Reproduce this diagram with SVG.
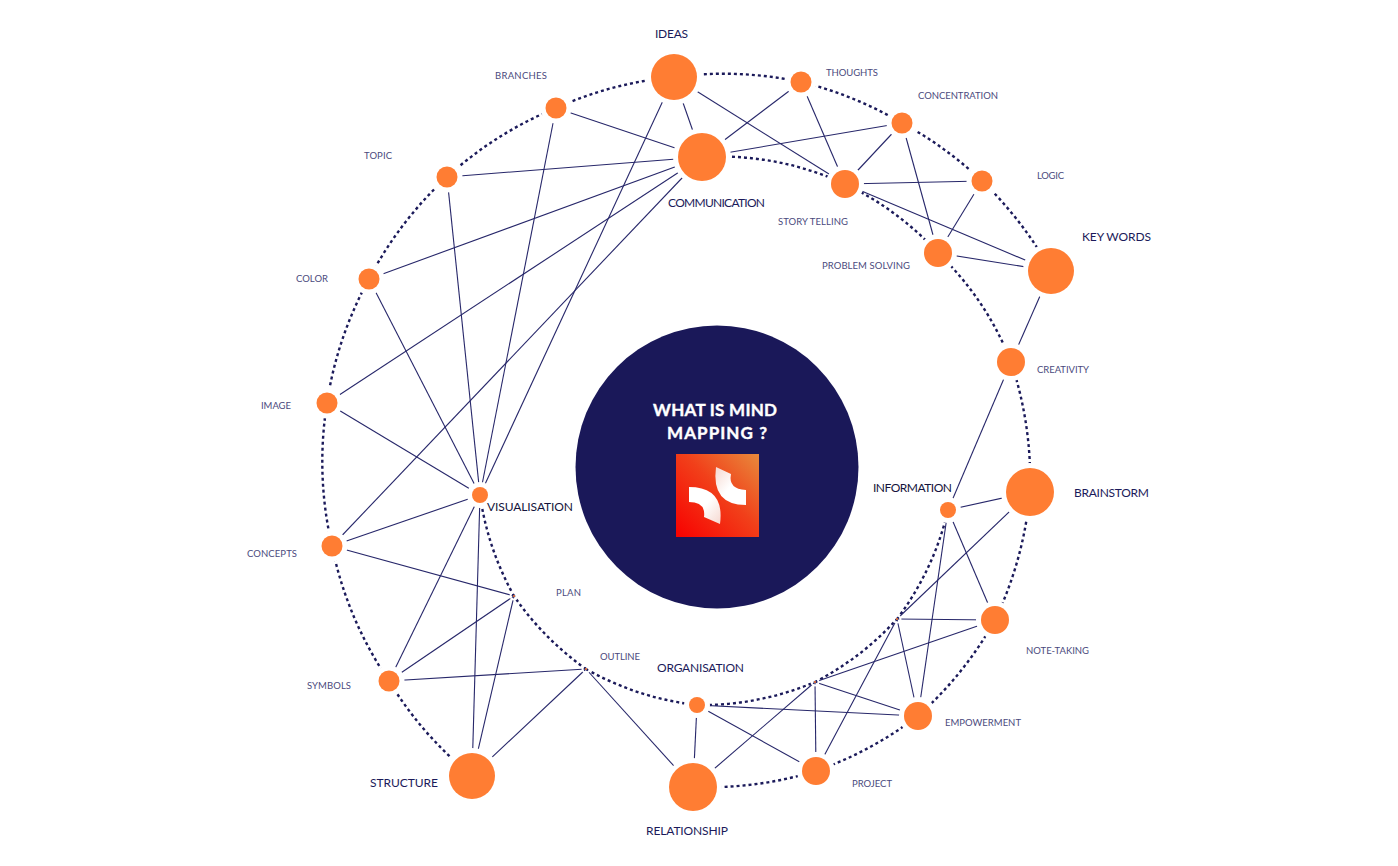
<svg xmlns="http://www.w3.org/2000/svg" width="1398" height="866" viewBox="0 0 1398 866">
<style>
text{font-family:"Lato","Noto Sans","Liberation Sans",sans-serif;font-weight:400}
.n{fill:#ff7d33;stroke:#fff;stroke-width:10;paint-order:stroke}
.t{fill:#ff7d33;stroke:#fff;stroke-width:7;paint-order:stroke}
.s{font-size:9.5px;fill:#4b4a7d}
.b{font-size:12px;fill:#1b1a5a}
.k{font-size:12px;fill:#14143c}
.h{font-size:17px;fill:#fff;stroke:#fff;stroke-width:.4;font-weight:700}
#links line{stroke:#27276a;stroke-width:1.1}
#rings path{fill:none;stroke:#1b1a5a;stroke-width:2.4;stroke-dasharray:3 3}
</style>
<defs>
<linearGradient id="logo" x1="0" y1="1" x2="1" y2="0"><stop offset="0" stop-color="#f80000"/><stop offset=".55" stop-color="#f1401a"/><stop offset="1" stop-color="#e88a3c"/></linearGradient>
<linearGradient id="p1" x1="0" y1="0" x2="1" y2="1"><stop offset="0" stop-color="#f6d8d0"/><stop offset=".5" stop-color="#fff"/></linearGradient>
<linearGradient id="p2" x1="1" y1="1" x2="0" y2="0"><stop offset="0" stop-color="#f6d8d0"/><stop offset=".5" stop-color="#fff"/></linearGradient>
</defs>
<g id="hub"><circle cx="717" cy="467" r="141.5" fill="#1a1859"/>
<text class="h" x="653" y="416" textLength="124">WHAT IS MIND</text>
<text class="h" x="667" y="439" textLength="100">MAPPING ?</text>
<rect x="676" y="454" width="83" height="83" fill="url(#logo)"/>
<path d="M716 467L731 474Q728 489 746 490L746 505Q711 505 716 467Z" fill="url(#p1)"/>
<path d="M689 487L689 502Q706 502 704 517L720 524Q725 487 689 487Z" fill="url(#p2)"/>
</g>
<g id="rings">
<path d="M472 776A370 370 0 0 1 389 681"/><path d="M389 681A370 370 0 0 1 332 546"/><path d="M332 546A370 370 0 0 1 327 403"/><path d="M327 403A370 370 0 0 1 369 279"/><path d="M369 279A370 370 0 0 1 447 177"/><path d="M447 177A370 370 0 0 1 556 108"/><path d="M556 108A370 370 0 0 1 674 77"/>
<path d="M674 77A370 370 0 0 1 801 82"/><path d="M801 82A370 370 0 0 1 902 123"/><path d="M902 123A370 370 0 0 1 982 181"/><path d="M982 181A370 370 0 0 1 1051 271"/>
<path d="M1011 362A370 370 0 0 1 1030 492"/><path d="M1030 492A370 370 0 0 1 995 620"/><path d="M995 620A370 370 0 0 1 918 716"/><path d="M918 716A370 370 0 0 1 816 771"/><path d="M816 771A370 370 0 0 1 693 787"/>
<path d="M702 157A300 300 0 0 1 845 184"/><path d="M845 184A300 300 0 0 1 938 253"/><path d="M938 253A300 300 0 0 1 1011 362"/>
<path d="M697 705A290 290 0 0 0 815 682"/><path d="M815 682A290 290 0 0 0 897 619"/><path d="M897 619A290 290 0 0 0 948 510"/>
<path d="M697 705A290 290 0 0 1 586 669"/><path d="M586 669A290 290 0 0 1 514 596"/><path d="M514 596A290 290 0 0 1 480 495"/>
</g>
<g id="links">
<line x1="674" y1="77" x2="702" y2="157"/><line x1="674" y1="77" x2="845" y2="184"/><line x1="674" y1="77" x2="480" y2="495"/>
<line x1="801" y1="82" x2="702" y2="157"/><line x1="801" y1="82" x2="845" y2="184"/>
<line x1="902" y1="123" x2="702" y2="157"/><line x1="902" y1="123" x2="845" y2="184"/><line x1="902" y1="123" x2="938" y2="253"/>
<line x1="982" y1="181" x2="845" y2="184"/><line x1="982" y1="181" x2="938" y2="253"/>
<line x1="1051" y1="271" x2="845" y2="184"/><line x1="1051" y1="271" x2="938" y2="253"/><line x1="1051" y1="271" x2="1011" y2="362"/>
<line x1="1011" y1="362" x2="948" y2="510"/>
<line x1="1030" y1="492" x2="948" y2="510"/><line x1="1030" y1="492" x2="897" y2="619"/>
<line x1="948" y1="510" x2="995" y2="620"/><line x1="948" y1="510" x2="918" y2="716"/>
<line x1="897" y1="619" x2="995" y2="620"/><line x1="897" y1="619" x2="918" y2="716"/><line x1="897" y1="619" x2="816" y2="771"/>
<line x1="815" y1="682" x2="995" y2="620"/><line x1="815" y1="682" x2="918" y2="716"/><line x1="815" y1="682" x2="816" y2="771"/><line x1="815" y1="682" x2="693" y2="787"/>
<line x1="697" y1="705" x2="918" y2="716"/><line x1="697" y1="705" x2="816" y2="771"/><line x1="697" y1="705" x2="693" y2="787"/>
<line x1="586" y1="669" x2="693" y2="787"/><line x1="586" y1="669" x2="472" y2="776"/><line x1="586" y1="669" x2="389" y2="681"/>
<line x1="514" y1="596" x2="472" y2="776"/><line x1="514" y1="596" x2="389" y2="681"/><line x1="514" y1="596" x2="332" y2="546"/>
<line x1="480" y1="495" x2="472" y2="776"/><line x1="480" y1="495" x2="389" y2="681"/><line x1="480" y1="495" x2="332" y2="546"/><line x1="480" y1="495" x2="327" y2="403"/><line x1="480" y1="495" x2="369" y2="279"/><line x1="480" y1="495" x2="447" y2="177"/><line x1="480" y1="495" x2="556" y2="108"/>
<line x1="702" y1="157" x2="556" y2="108"/><line x1="702" y1="157" x2="447" y2="177"/><line x1="702" y1="157" x2="369" y2="279"/><line x1="702" y1="157" x2="327" y2="403"/><line x1="702" y1="157" x2="332" y2="546"/>
</g>
<g id="ideas"><circle class="n" cx="674" cy="77" r="23"/><text class="b" x="655" y="38" textLength="33">IDEAS</text></g>
<g id="thoughts"><circle class="n" cx="801" cy="82" r="10.5"/><text class="s" x="826" y="76" textLength="52">THOUGHTS</text></g>
<g id="concentration"><circle class="n" cx="902" cy="123" r="10.5"/><text class="s" x="918" y="99" textLength="80">CONCENTRATION</text></g>
<g id="logic"><circle class="n" cx="982" cy="181" r="10.5"/><text class="s" x="1037" y="179" textLength="27">LOGIC</text></g>
<g id="keywords"><circle class="n" cx="1051" cy="271" r="23"/><text class="b" x="1082" y="241" textLength="69">KEY WORDS</text></g>
<g id="creativity"><circle class="n" cx="1011" cy="362" r="14"/><text class="s" x="1037" y="373" textLength="52">CREATIVITY</text></g>
<g id="brainstorm"><circle class="n" cx="1030" cy="492" r="24"/><text class="b" x="1074" y="497" textLength="75">BRAINSTORM</text></g>
<g id="notetaking"><circle class="n" cx="995" cy="620" r="14"/><text class="s" x="1026" y="654" textLength="63">NOTE-TAKING</text></g>
<g id="empowerment"><circle class="n" cx="918" cy="716" r="14"/><text class="s" x="945" y="726" textLength="76">EMPOWERMENT</text></g>
<g id="project"><circle class="n" cx="816" cy="771" r="14"/><text class="s" x="852" y="787" textLength="40">PROJECT</text></g>
<g id="relationship"><circle class="n" cx="693" cy="787" r="24"/><text class="b" x="646" y="835" textLength="82">RELATIONSHIP</text></g>
<g id="organisation"><circle class="n" cx="697" cy="705" r="8"/><text class="b" x="657" y="672" textLength="87">ORGANISATION</text></g>
<g id="tiny1"><circle class="t" cx="897" cy="619" r="1"/></g>
<g id="tiny2"><circle class="t" cx="815" cy="682" r="1"/></g>
<g id="outline"><circle class="t" cx="586" cy="669" r="1"/><text class="s" x="600" y="660" textLength="40">OUTLINE</text></g>
<g id="plan"><circle class="t" cx="514" cy="596" r="1"/><text class="s" x="556" y="596" textLength="25">PLAN</text></g>
<g id="visualisation"><circle class="n" cx="480" cy="495" r="8"/><text class="k" x="487" y="511" textLength="86">VISUALISATION</text></g>
<g id="symbols"><circle class="n" cx="389" cy="681" r="10.5"/><text class="s" x="307" y="689" textLength="44">SYMBOLS</text></g>
<g id="structure"><circle class="n" cx="472" cy="776" r="23"/><text class="b" x="370" y="787" textLength="68">STRUCTURE</text></g>
<g id="concepts"><circle class="n" cx="332" cy="546" r="10.5"/><text class="s" x="247" y="557" textLength="50">CONCEPTS</text></g>
<g id="image"><circle class="n" cx="327" cy="403" r="10.5"/><text class="s" x="261" y="409" textLength="30">IMAGE</text></g>
<g id="color"><circle class="n" cx="369" cy="279" r="10.5"/><text class="s" x="296" y="282" textLength="32">COLOR</text></g>
<g id="topic"><circle class="n" cx="447" cy="177" r="10.5"/><text class="s" x="364" y="159" textLength="28">TOPIC</text></g>
<g id="branches"><circle class="n" cx="556" cy="108" r="10.5"/><text class="s" x="495" y="79" textLength="52">BRANCHES</text></g>
<g id="communication"><circle class="n" cx="702" cy="157" r="24"/><text class="b" x="668" y="207" textLength="97">COMMUNICATION</text></g>
<g id="storytelling"><circle class="n" cx="845" cy="184" r="14"/><text class="s" x="778" y="225" textLength="70">STORY TELLING</text></g>
<g id="problemsolving"><circle class="n" cx="938" cy="253" r="14"/><text class="s" x="822" y="269" textLength="88">PROBLEM SOLVING</text></g>
<g id="information"><circle class="n" cx="948" cy="510" r="8"/><text class="k" x="873" y="492" textLength="79">INFORMATION</text></g>
</svg>
